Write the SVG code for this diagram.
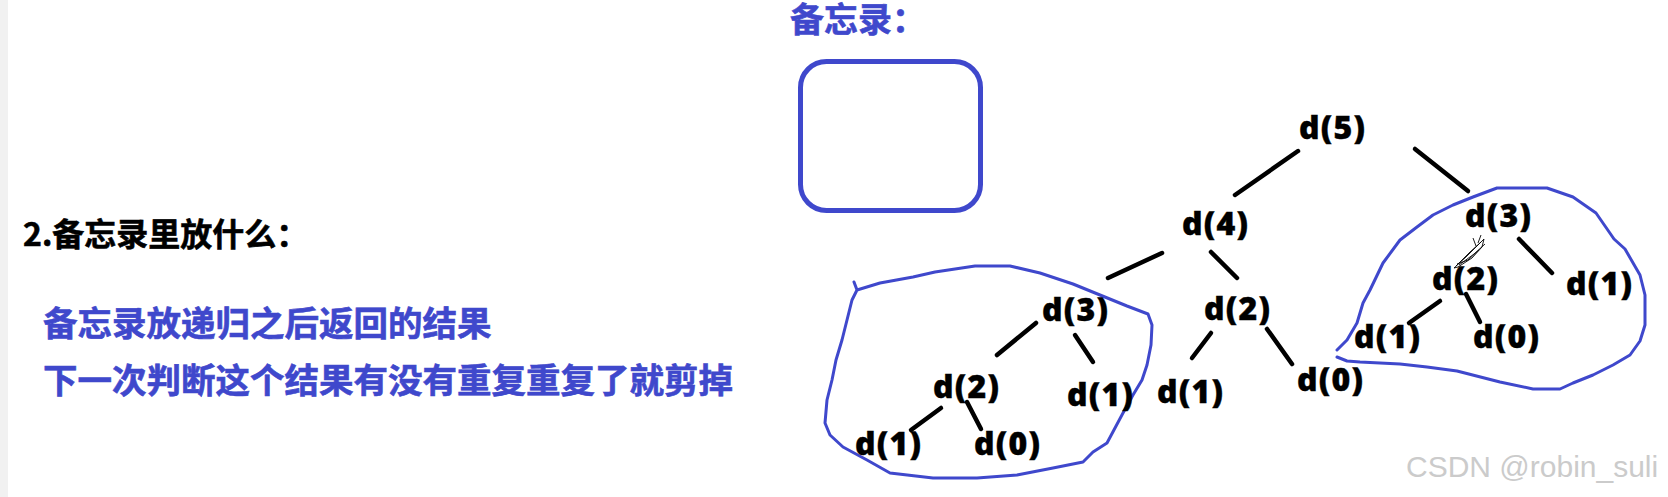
<svg xmlns="http://www.w3.org/2000/svg" width="1668" height="497" viewBox="0 0 1668 497">
  <style>
    .cjk { font-family: "Noto Sans CJK SC", "Noto Sans", sans-serif; font-weight: bold; stroke-width: 0.6; }
    .blue { fill: #3f48cc; stroke: #3f48cc; }
    .black { fill: #000; stroke: #000; }
    .node { font-family: "Open Sans", "Liberation Sans", sans-serif; font-weight: 800; font-size: 32px; letter-spacing: 1.2px; fill: #000; stroke: #000; stroke-width: 0.4; }
    .edge { stroke: #000; stroke-width: 4.5; stroke-linecap: round; fill: none; }
    .blob { stroke: #3f48cc; stroke-width: 3; fill: none; stroke-linejoin: round; stroke-linecap: round; }
    .scribble { stroke: #000; stroke-width: 0.9; fill: none; }
  </style>
  <rect x="0" y="0" width="1668" height="497" fill="#ffffff"/>
  <rect x="0" y="0" width="8" height="497" fill="#f1f1f1"/>

  <g id="memo-title">
    <text class="cjk blue" x="790" y="32" font-size="34">备忘录：</text>
  </g>
  <g id="memo-box">
    <rect x="800.5" y="61.5" width="180" height="149" rx="26" ry="26" fill="none" stroke="#3f48cc" stroke-width="5"/>
  </g>

  <g id="question">
    <text class="cjk black" x="23" y="246" font-size="32">2.备忘录里放什么：</text>
  </g>
  <g id="answer">
    <text class="cjk blue" x="43" y="336" font-size="34.5">备忘录放递归之后返回的结果</text>
    <text class="cjk blue" x="43" y="393" font-size="34.5">下一次判断这个结果有没有重复重复了就剪掉</text>
  </g>

  <g id="groups">
    <path id="blob-left" class="blob" d="M854,282 L857,290 L880,283 L913,277 L935,272 L955,269 L975,266 L1010,266 L1040,273 L1073,284 L1100,295 L1127,306 L1148,314 L1152,325 L1151,345 L1147,365 L1142,380 L1133,395 L1123,413 L1107,443 L1093,452 L1083,462 L1053,468 L1017,475 L977,478 L933,478 L890,473 L867,460 L843,447 L830,435 L825,423 L827,400 L832,380 L836,360 L842,340 L847,320 L852,300 L857,290"/>
    <path id="blob-right" class="blob" d="M1337,350 L1347,340 L1357,323 L1363,303 L1370,290 L1383,263 L1400,240 L1417,227 L1433,215 L1453,205 L1473,197 L1497,188 L1547,188 L1573,197 L1596,213 L1614,239 L1625,249 L1640,275 L1645,295 L1645,325 L1640,341 L1630,355 L1613,365 L1593,375 L1573,383 L1560,389 L1533,389 L1500,382 L1457,371 L1427,367 L1400,364 L1360,362 L1347,361 L1337,357"/>
  </g>

  <g id="connectors">
    <line class="edge" x1="1298" y1="151" x2="1235" y2="195"/>
    <line class="edge" x1="1415" y1="149" x2="1468" y2="191"/>
    <line class="edge" x1="1162" y1="253" x2="1108" y2="278"/>
    <line class="edge" x1="1211" y1="252" x2="1237" y2="278"/>
    <line class="edge" x1="1211" y1="333" x2="1192" y2="358"/>
    <line class="edge" x1="1267" y1="329" x2="1292" y2="364"/>
    <line class="edge" x1="1036" y1="323" x2="997" y2="355"/>
    <line class="edge" x1="1075" y1="335" x2="1093" y2="362"/>
    <line class="edge" x1="941" y1="408" x2="911" y2="430"/>
    <line class="edge" x1="967" y1="402" x2="981" y2="429"/>
    <line class="edge" x1="1519" y1="239" x2="1552" y2="273"/>
    <line class="edge" x1="1440" y1="301" x2="1409" y2="323"/>
    <line class="edge" x1="1466" y1="294" x2="1480" y2="322"/>
    <g id="scribble">
      <path class="scribble" d="M1454,268 L1466,257 L1476,247 L1484,239 L1482,247 L1472,258 L1458,267 Z"/>
      <path class="scribble" d="M1456,266 L1470,252 L1481,242 M1459,265 L1474,254 L1485,244 M1478,243 L1481,235 M1476,246 L1473,238 M1457,264 L1468,260 L1479,250"/>
    </g>
  </g>

  <g id="node-d5"><text class="node" x="1299" y="139">d(5)</text></g>
  <g id="node-d4"><text class="node" x="1182" y="235">d(4)</text></g>
  <g id="node-d3-left"><text class="node" x="1042" y="321">d(3)</text></g>
  <g id="node-d2-mid"><text class="node" x="1204" y="320">d(2)</text></g>
  <g id="node-d2-left"><text class="node" x="933" y="398">d(2)</text></g>
  <g id="node-d1-left"><text class="node" x="1067" y="406">d(1)</text></g>
  <g id="node-d1-mid"><text class="node" x="1157" y="403">d(1)</text></g>
  <g id="node-d0-mid"><text class="node" x="1297" y="391">d(0)</text></g>
  <g id="node-d1-lb"><text class="node" x="855" y="455">d(1)</text></g>
  <g id="node-d0-lb"><text class="node" x="974" y="455">d(0)</text></g>
  <g id="node-d3-right"><text class="node" x="1465" y="227">d(3)</text></g>
  <g id="node-d2-right"><text class="node" x="1432" y="290">d(2)</text></g>
  <g id="node-d1-right"><text class="node" x="1566" y="295">d(1)</text></g>
  <g id="node-d1-rb"><text class="node" x="1354" y="348">d(1)</text></g>
  <g id="node-d0-rb"><text class="node" x="1473" y="348">d(0)</text></g>

  <g id="watermark">
    <text x="1406" y="477" font-family="Liberation Sans, Arial, sans-serif" font-size="30" fill="#cbcbcb">CSDN @robin_suli</text>
  </g>
</svg>
